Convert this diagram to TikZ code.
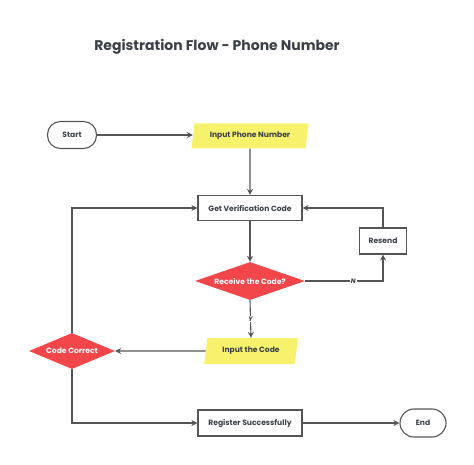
\documentclass[tikz,border=0pt]{standalone}
\usepackage{fontspec}
\setmainfont{Poppins}
\usetikzlibrary{shapes.geometric,arrows.meta}
\definecolor{inkgray}{HTML}{3B3F47}
\definecolor{linegray}{HTML}{555555}
\definecolor{ioyellow}{HTML}{F6F26C}
\definecolor{testred}{HTML}{F2464A}
\begin{document}
\begin{tikzpicture}[x=1pt, y=-1pt,
  font=\fontsize{7.6}{9}\selectfont\bfseries, text=inkgray,
  terminal/.style={draw=linegray, line width=1.1pt, rounded corners=13pt, minimum width=49pt, minimum height=27pt, inner sep=0pt},
  process/.style={draw=linegray, line width=1.1pt, minimum width=104pt, minimum height=25pt, inner sep=0pt},
  io/.style={trapezium, trapezium left angle=74, trapezium right angle=106, trapezium stretches=true, fill=ioyellow, minimum width=118pt, minimum height=25pt, inner sep=0pt},
  decision/.style={diamond, aspect=2.9, fill=testred, text=white, minimum width=110pt, minimum height=38pt, inner sep=0pt},
  flow/.style={draw=linegray, line width=1.1pt, -{Stealth[length=6pt, width=6pt]}},
  answer/.style={fill=white, inner sep=1pt, font=\fontsize{6.5}{7}\selectfont\bfseries\itshape}]
\useasboundingbox (0,0) rectangle (474,465);

% Title
\node[font=\fontsize{14}{17}\selectfont\bfseries] (title) at (217,47) {Registration Flow - Phone Number};

% States
\node[terminal] (start) at (72,135) {Start};
\node[io] (phone) at (250,136) {Input Phone Number};
\node[process] (getcode) at (250,208) {Get Verification Code};
\node[process, minimum width=47pt, minimum height=26pt] (resend) at (383,241) {Resend};
\node[decision] (receive) at (250,281) {Receive the Code?};
\node[io, minimum width=94pt, minimum height=26pt] (inputcode) at (251,351) {Input the Code};
\node[decision, aspect=2.4, minimum width=86pt, minimum height=36pt] (correct) at (72,351) {Code Correct};
\node[process, minimum height=26pt] (register) at (250,423) {Register Successfully};
\node[terminal, minimum width=46pt, minimum height=28pt, rounded corners=14pt] (end) at (423,423) {End};

% Transitions
\draw[flow] (start) -- (phone.west |- start);
\draw[flow] (phone) -- (getcode);
\draw[flow] (getcode) -- (receive);
\draw[flow] (receive.east) -| (resend.south) node[answer, pos=0.31] {N};
\draw[flow] (resend.north) |- (getcode.east);
\draw[flow] (receive.south) -- (inputcode.north) node[answer, midway] {Y};
\draw[flow] (inputcode.west) -- (correct.east);
\draw[flow] (correct.north) |- (getcode.west);
\draw[flow] (correct.south) |- (register.west);
\draw[flow] (register) -- (end);
\end{tikzpicture}
\end{document}
